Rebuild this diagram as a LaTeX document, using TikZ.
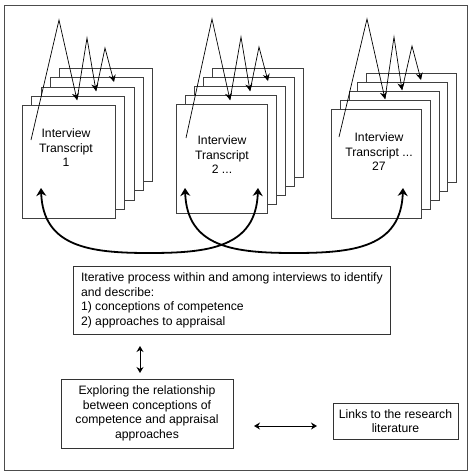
\documentclass[tikz,border=0pt]{standalone}
\usepackage{fontspec}
\setmainfont{Liberation Sans}
\usetikzlibrary{arrows.meta,calc}

\begin{document}
\begin{tikzpicture}
      [x=1pt,y=-1pt,
      page/.style={shape=rectangle,draw=black!75,fill=white,line width=0.8pt,inner sep=0pt,anchor=north west},
      doctext/.style={align=center,inner sep=0pt},
      box/.style={shape=rectangle,draw=black!80,line width=0.8pt,inner xsep=4pt,inner ysep=3pt},
      zig/.style={line width=0.7pt,-{Stealth[length=7pt,width=7pt]}},
      swing/.style={line width=1.8pt,looseness=1.2,{Stealth[length=8pt,width=10pt]}-{Stealth[length=8pt,width=10pt]}},
      link/.style={line width=1pt,{Stealth[length=6pt,width=7pt]}-{Stealth[length=6pt,width=7pt]}},
      font=\fontsize{12.2}{14.5}\selectfont]
\useasboundingbox (0,0) rectangle (474,475);
\draw[black!70,line width=0.8pt] (4,5) rectangle (467,470);

% stacks of transcripts, back page first
\foreach \i in {4,...,0}{
    \node[page,minimum width=93pt,minimum height=113pt] (ta\i) at (22+9.3*\i,105-9.25*\i) {};
    \node[page,minimum width=91pt,minimum height=109pt] (tb\i) at (176+9*\i,104-9*\i) {};
    \node[page,minimum width=90pt,minimum height=109pt] (tc\i) at (331+8.8*\i,109-9*\i) {};
}
\node[doctext] (la) at (66,148) {Interview\\Transcript\\1};
\node[doctext] (lb) at (222,155) {Interview\\Transcript\\2 ...};
\node[doctext] (lc) at (379,152) {Interview\\Transcript ...\\27};

% zigzags over the pages
\draw[zig] (31,140) -- (59,20) -- (77,100);
\draw[zig] (77,100) -- (87,38) -- (96,91);
\draw[zig] (96,91) -- (105,48) -- (114,82);
\draw[zig] (186,138) -- (212,19) -- (230,100);
\draw[zig] (230,100) -- (241,37) -- (250,91);
\draw[zig] (250,91) -- (259,47) -- (268,81);
\draw[zig] (339,137) -- (367,19) -- (385,99);
\draw[zig] (385,99) -- (394,37) -- (402,90);
\draw[zig] (402,90) -- (412,46) -- (421,80);

% links among the interviews
\coordinate (sa) at (41,188);
\coordinate (sb) at (149,253);
\coordinate (sc) at (258,188);
\coordinate (sd) at (185,188);
\coordinate (se) at (294,253);
\coordinate (sf) at (403,188);
\draw[swing] (sa) to[out=-88,in=180] (sb) to[out=0,in=-92] (sc);
\draw[swing] (sd) to[out=-88,in=180] (se) to[out=0,in=-92] (sf);

\node[box,anchor=north west,minimum width=317pt,minimum height=68pt,align=left] (iter) at (73,266)
    {Iterative process within and among interviews to identify\\and describe:\\1) conceptions of competence\\2) approaches to appraisal};
\node[box,minimum width=172pt,minimum height=69pt,align=center] (explore) at (147,413.5)
    {Exploring the relationship\\between conceptions of\\competence and appraisal\\approaches};
\node[box,minimum width=125pt,minimum height=36pt,align=center] (links) at (395.5,421)
    {Links to the research\\literature};

\coordinate (va) at (140,346);
\coordinate (vb) at (140,373);
\coordinate (ha) at (254,426);
\coordinate (hb) at (317,426);
\draw[link] (va) -- (vb);
\draw[link] (ha) -- (hb);
\end{tikzpicture}
\end{document}
